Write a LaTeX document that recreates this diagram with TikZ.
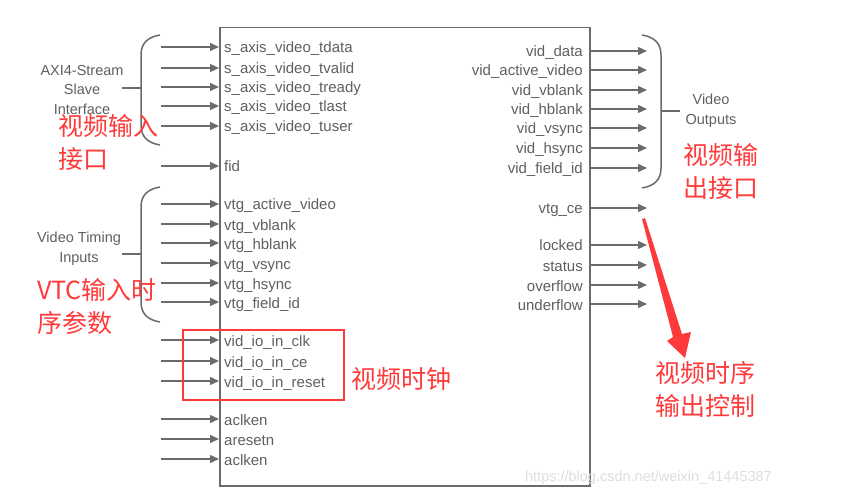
\documentclass[tikz,border=0pt]{standalone}
\usepackage{fontspec}
\setmainfont{Liberation Sans}
\newfontfamily\cjk{Noto Sans CJK SC}
\usetikzlibrary{arrows.meta}
\definecolor{gr}{HTML}{6B6B6B}
\definecolor{tx}{HTML}{606060}
\definecolor{rd}{HTML}{FF3A3A}
\tikzset{
  sig/.style={draw=gr, line width=1.3pt, -{Triangle[length=9pt,width=8pt]}},
  brace/.style={draw=gr, line width=1.5pt},
  lab/.style={inner sep=0pt, text=tx, font=\fontsize{15}{15}\selectfont, text height=13pt, text depth=1pt},
  grp/.style={inner sep=0pt, text=tx, font=\fontsize{14.5}{19.5}\selectfont, align=center},
  ann/.style={inner sep=0pt, text=rd, font=\cjk\fontsize{25}{33}\selectfont, align=left},
}
\begin{document}
\begin{tikzpicture}[x=1pt,y=-1pt]
\useasboundingbox (0,0) rectangle (852,500);
\fill[white] (0,0) rectangle (852,500);
% main box
\node[draw=gr, line width=1.5pt, minimum width=370pt, minimum height=458pt, inner sep=0pt, anchor=north west] (box) at (219,27) {};
% inputs
\foreach \y/\t [count=\i] in {47/s\_axis\_video\_tdata, 68/s\_axis\_video\_tvalid, 87/s\_axis\_video\_tready, 106/s\_axis\_video\_tlast, 126/s\_axis\_video\_tuser, 166/fid, 204/vtg\_active\_video, 224/vtg\_vblank, 243/vtg\_hblank, 263/vtg\_vsync, 283/vtg\_hsync, 302/vtg\_field\_id, 340/vid\_io\_in\_clk, 361/vid\_io\_in\_ce, 381/vid\_io\_in\_reset, 419/aclken, 439/aresetn, 459/aclken}{
  \coordinate (in\i) at (161,\y);
  \coordinate (pin\i) at (219,\y);
  \node[lab, anchor=west] (l\i) at (224,\y) {\t};
  \draw[sig] (in\i) -- (pin\i);
}
% outputs
\foreach \y/\t [count=\i] in {51/vid\_data, 70/vid\_active\_video, 90/vid\_vblank, 109/vid\_hblank, 128/vid\_vsync, 148/vid\_hsync, 168/vid\_field\_id, 208/vtg\_ce, 245/locked, 265/status, 285/overflow, 304/underflow}{
  \coordinate (pout\i) at (589,\y);
  \coordinate (out\i) at (647,\y);
  \node[lab, anchor=east] (r\i) at (583,\y) {\t};
  \draw[sig] (pout\i) -- (out\i);
}
% braces
\draw[brace] (160,35) .. controls (148,37) and (141,43) .. (141,55) -- (141,125) .. controls (141,137) and (148,143) .. (160,145);
\coordinate (b1) at (141,88); \coordinate (b1e) at (122,88);
\draw[brace] (b1) -- (b1e);
\draw[brace] (160,187) .. controls (148,189) and (141,195) .. (141,207) -- (141,302) .. controls (141,314) and (148,320) .. (160,322);
\coordinate (b2) at (141,254); \coordinate (b2e) at (122,254);
\draw[brace] (b2) -- (b2e);
\draw[brace] (642,35) .. controls (654,37) and (661,43) .. (661,55) -- (661,168) .. controls (661,180) and (654,186) .. (642,188);
\coordinate (b3) at (661,111); \coordinate (b3e) at (680,111);
\draw[brace] (b3) -- (b3e);
% group labels
\node[grp] (g1) at (82,90) {AXI4-Stream\\Slave\\Interface};
\node[grp] (g2) at (79,249) {Video Timing\\Inputs};
\node[grp] (g3) at (711,111) {Video\\Outputs};
% red annotations
\node[ann, anchor=north west] (a1) at (58,114) {视频输入\\接口};
\node[ann, anchor=north west] (a2) at (683,143) {视频输\\出接口};
\node[ann, anchor=north west] (a3) at (37,278) {VTC输入时\\序参数};
\node[ann, anchor=west] (a4) at (351,379) {视频时钟};
\node[ann, anchor=north west] (a5) at (655,361) {视频时序\\输出控制};
\node[draw=rd, line width=2pt, minimum width=161pt, minimum height=70pt, inner sep=0pt, anchor=north west] (clkbox) at (182,329) {};
\fill[rd] (642,219) -- (673,337) -- (667,341) -- (685,358) -- (691,332) -- (682,334) -- (645,218) -- cycle;
% watermark
\node[inner sep=0pt, anchor=east, text=black!13, font=\fontsize{14.5}{14.5}\selectfont] (wm) at (772,478) {https://blog.csdn.net/weixin\_41445387};
\end{tikzpicture}
\end{document}
